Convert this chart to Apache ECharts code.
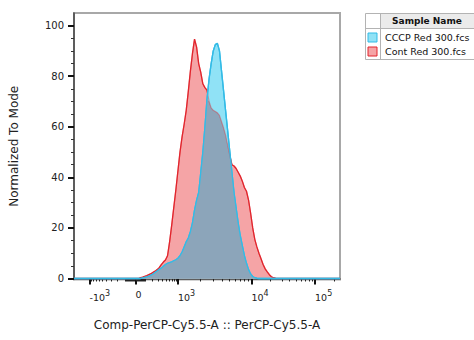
<!DOCTYPE html>
<html lang="en">
<head>
    <meta charset="UTF-8">
    <title>histogram</title>
    <script src="https://cdn.jsdelivr.net/npm/echarts@6/dist/echarts.min.js"></script>
    <style>
        body{ margin: 0; background: #fff; }
        #chart{ width: 474px; height: 340px; }
    </style>
</head>
<body>
    <div id="chart"></div>
    <script>
        // display channels (0-1024 across the axis) of the histogram bins
        var bins = [0, 240, 248, 256, 264, 272, 280, 288, 296, 304, 312, 320, 328, 336, 344, 352, 360, 368, 376, 384,
            392, 400, 408, 416, 424, 432, 440, 448, 456, 464, 472, 480, 488, 496, 504, 512, 520, 528, 536, 544,
            552, 560, 568, 576, 584, 592, 600, 608, 616, 624, 632, 640, 648, 656, 664, 672, 680, 688, 696, 704,
            712, 720, 728, 736, 744, 752, 760, 768, 776, 784, 792, 1024];
        // Cont Red 300.fcs (% of mode)
        var contRed = [0, 0, 0, 0.3, 0.5, 0.8, 1.1, 1.5, 1.9, 2.4, 2.9, 3.5, 4.3, 5.5, 6.5, 7.3, 9, 14.5, 21, 28,
            35, 42.5, 50, 56, 61, 66.5, 74, 82, 89, 94.7, 91.5, 85, 81.5, 77, 75.5, 74.5, 70, 67.5, 66.5, 66,
            65.5, 64.5, 62, 59.5, 56.5, 52.5, 48.5, 45, 44.5, 43.5, 42, 40.5, 38.5, 36, 34.5, 31, 25.8, 20, 15.5, 12.5,
            10, 7.8, 5.5, 3.8, 2.6, 1.5, 0.7, 0.3, 0.1, 0, 0, 0];
        // CCCP Red 300.fcs (% of mode)
        var cccpRed = [0, 0, 0, 0, 0.2, 0.4, 0.6, 0.9, 1.3, 1.8, 2.4, 3, 3.6, 4.1, 4.8, 5.5, 6, 6.3, 6.6, 7,
            7.4, 8, 9, 10.5, 12.5, 14.5, 16, 18.5, 22, 27, 31, 34, 42, 50, 60, 71, 79, 85, 90, 92.5,
            93, 90, 82, 74, 66, 58, 50, 42, 34, 28, 22, 17, 13, 9, 6, 3.5, 1.8, 0.8, 0.3, 0.1,
            0, 0, 0, 0, 0, 0, 0, 0, 0, 0, 0, 0];

        // biex axis: decade labels and the channel where each one sits
        var tickValues = [-1000, 0, 1000, 10000, 100000];
        var tickLabels = ['{b|-10}{s|3}', '{b|0}', '{b|10}{s|3}', '{b|10}{s|4}', '{b|10}{s|5}'];
        var tickChannels = [60, 237, 400, 683, 928];
        var yLabels = [0, 20, 40, 60, 80, 100];

        function toCh(v){
            var a = Math.abs(v);
            if (a <= 1000) {
                var w = v < 0 ? tickChannels[1] - tickChannels[0] : tickChannels[2] - tickChannels[1];
                return tickChannels[1] + (v < 0 ? -1 : 1) * w * Math.asinh(a / 180) / Math.asinh(1000 / 180);
            }
            if (a <= 10000) return tickChannels[2] + (tickChannels[3] - tickChannels[2]) * Math.log10(a / 1000);
            return tickChannels[3] + (tickChannels[4] - tickChannels[3]) * Math.log10(a / 10000);
        }

        var minorVals = [];
        [10, 100].forEach(function(d){
            for (var k = 1; k <= 9; k++) { minorVals.push(k * d); minorVals.push(-k * d); }
        });
        [1000, 10000].forEach(function(d){
            for (var k = 2; k <= 9; k++) minorVals.push(k * d);
        });
        minorVals.push(200000);
        var minorCh = minorVals.map(toCh);
        var majorCh = tickValues.map(toCh);

        var yMinor = [];
        for (var i = 5; i < 105; i += 5) if (i % 20) yMinor.push(i);

        var redData = bins.map(function(c, i){ return [c, contRed[i]]; });
        var cyanData = bins.map(function(c, i){ return [c, cccpRed[i]]; });
        var bothData = bins.map(function(c, i){ return [c, Math.min(contRed[i], cccpRed[i])]; });

        var RED = '#e2252d', PINK = '#f5a4a6', CYAN = '#33bbe6', LCYAN = '#90e2f6', MIX = '#8ca5ba';
        var font = 'DejaVu Sans';

        var chart = echarts.init(document.getElementById('chart'), null, {renderer: 'svg'});
        var option = {
            animation: false,
            backgroundColor: '#fff',
            textStyle: { fontFamily: font },
            grid: {
                left: 72, right: 134, top: 13, bottom: 60.5,
                show: true, borderColor: '#a8a8a8', borderWidth: 2
            },
            xAxis: [{
                type: 'value', min: 0, max: 1024, position: 'bottom',
                name: 'Comp-PerCP-Cy5.5-A :: PerCP-Cy5.5-A',
                nameLocation: 'middle', nameGap: 39,
                nameTextStyle: { fontSize: 12, color: '#222', fontFamily: font },
                axisLine: { show: true, lineStyle: { color: '#444', width: 1.5 } },
                axisTick: { show: true, customValues: majorCh, length: 6, lineStyle: { color: '#111', width: 2 } },
                axisLabel: {
                    customValues: majorCh, align: 'left', margin: 10, color: '#222',
                    formatter: function(v){
                        var idx = 0, best = 1e9;
                        majorCh.forEach(function(c, j){ if (Math.abs(c - v) < best) { best = Math.abs(c - v); idx = j; } });
                        return tickLabels[idx];
                    },
                    rich: {
                        b: { fontSize: 9.5, color: '#222', fontFamily: font },
                        s: { fontSize: 8, color: '#222', fontFamily: font, padding: [0, 0, 8, 0] }
                    }
                },
                splitLine: { show: false }
            }, {
                type: 'value', min: 0, max: 1024, position: 'bottom', offset: 0,
                axisLine: { show: false },
                axisTick: { show: true, customValues: minorCh, length: 3, lineStyle: { color: '#222', width: 1 } },
                axisLabel: { show: false },
                splitLine: { show: false }
            }],
            yAxis: [{
                type: 'value', min: -0.4, max: 105, position: 'left',
                name: 'Normalized To Mode',
                nameLocation: 'middle', nameGap: 54,
                nameTextStyle: { fontSize: 12, color: '#222', fontFamily: font },
                axisLine: { show: true, lineStyle: { color: '#444', width: 1.5 } },
                axisTick: { show: true, customValues: yLabels, length: 6, lineStyle: { color: '#111', width: 2 } },
                axisLabel: { customValues: yLabels, fontSize: 10, color: '#222', margin: 10 },
                splitLine: { show: false }
            }, {
                type: 'value', min: -0.4, max: 105, position: 'left', offset: 0,
                axisLine: { show: false },
                axisTick: { show: true, customValues: yMinor, length: 3, lineStyle: { color: '#333', width: 1 } },
                axisLabel: { show: false },
                splitLine: { show: false }
            }],
            legend: {
                orient: 'vertical', left: 367.5, top: 31, padding: 0,
                itemWidth: 9, itemHeight: 9, itemGap: 1, selectedMode: false,
                textStyle: { fontSize: 9.5, color: '#111', fontFamily: font, lineHeight: 13, padding: [0, 0, 0, 3] },
                data: [
                    { name: 'CCCP Red 300.fcs', icon: 'rect', itemStyle: { color: LCYAN, borderColor: CYAN, borderWidth: 1 } },
                    { name: 'Cont Red 300.fcs', icon: 'rect', itemStyle: { color: PINK, borderColor: RED, borderWidth: 1 } }
                ]
            },
            graphic: [
                { type: 'rect', z: 0, shape: { x: 380.5, y: 13.5, width: 100, height: 15 }, style: { fill: '#ebebeb' } },
                { type: 'rect', z: 1, shape: { x: 365.5, y: 13.5, width: 120, height: 46 }, style: { fill: 'none', stroke: '#b3b3b3', lineWidth: 1 } },
                { type: 'line', z: 1, shape: { x1: 365.5, y1: 28.5, x2: 474, y2: 28.5 }, style: { stroke: '#b3b3b3', lineWidth: 1 } },
                { type: 'line', z: 1, shape: { x1: 380.5, y1: 13.5, x2: 380.5, y2: 59.5 }, style: { stroke: '#b3b3b3', lineWidth: 1 } },
                { type: 'text', z: 2, x: 427, y: 21, style: { text: 'Sample Name', font: 'bold 9px "DejaVu Sans"', fill: '#111', textAlign: 'center', textVerticalAlign: 'middle' } }
            ],
            series: [{
                name: 'Cont Red 300.fcs', type: 'line', data: redData, symbol: 'none', z: 2,
                lineStyle: { color: RED, width: 1.3 }, itemStyle: { color: RED },
                areaStyle: { color: PINK, opacity: 1 }
            }, {
                name: 'CCCP Red 300.fcs', type: 'line', data: cyanData, symbol: 'none', z: 3,
                lineStyle: { color: CYAN, width: 1.3 }, itemStyle: { color: CYAN },
                areaStyle: { color: LCYAN, opacity: 1 }
            }, {
                name: 'overlap', type: 'line', data: bothData, symbol: 'none', z: 4,
                lineStyle: { width: 0 }, areaStyle: { color: MIX, opacity: 1 }
            }, {
                name: 'cont line', type: 'line', data: redData, symbol: 'none', z: 5,
                lineStyle: { color: RED, width: 1.2, opacity: 0.4 }
            }, {
                name: 'cccp line', type: 'line', data: cyanData, symbol: 'none', z: 6,
                lineStyle: { color: CYAN, width: 1.3 }
            }]
        };
        chart.setOption(option);
    </script>
</body>
</html>
